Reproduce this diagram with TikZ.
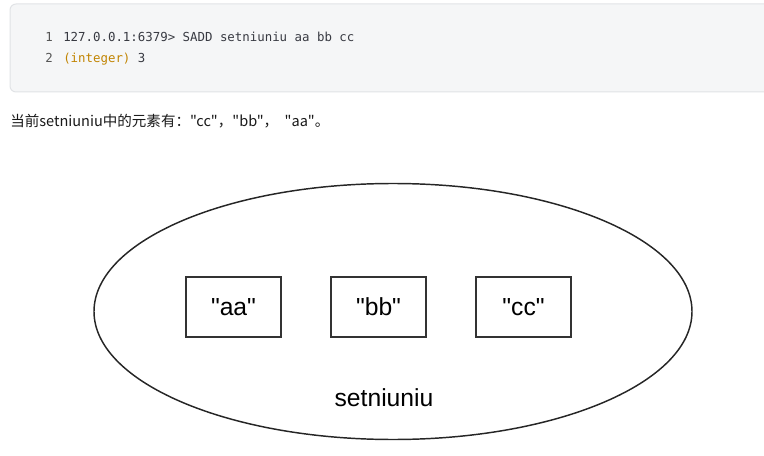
\documentclass[tikz,border=0pt]{standalone}
\usepackage{fontspec}
\setmainfont{Liberation Sans}
\newfontfamily\arial{Liberation Sans}
\newfontfamily\cjk{Noto Sans CJK SC}
\newfontfamily\codefont{DejaVu Sans Mono}
\definecolor{codebg}{HTML}{F5F6F7}
\definecolor{codeborder}{HTML}{E1E3E6}
\definecolor{codetext}{HTML}{383A42}
\definecolor{lineno}{HTML}{555555}
\definecolor{numcol}{HTML}{C18401}
\definecolor{boxdraw}{HTML}{333333}
\tikzset{
  elembox/.style={draw=boxdraw, line width=1.5pt, minimum width=71.25pt, minimum height=45pt, inner sep=0pt, font=\arial\fontsize{18.5}{20}\selectfont},
  codeline/.style={anchor=base west, inner sep=0pt, font=\codefont\fontsize{9.3}{11}\selectfont, text=codetext},
}
\begin{document}
\begin{tikzpicture}[x=0.75pt, y=-0.75pt]
\useasboundingbox (0,0) rectangle (764,456);
% code block
\draw[fill=codebg, draw=codeborder, line width=0.75pt, rounded corners=4.5pt] (10,4) rectangle (790,92);
\node[codeline, text=lineno] (n1) at (45,41.5) {1};
\node[codeline] (l1) at (63,41.5) {127.0.0.1:6379> SADD setniuniu aa bb cc};
\node[codeline, text=lineno] (n2) at (45,62.5) {2};
\node[codeline] (l2) at (63,62.5) {\textcolor{numcol}{(integer)} 3};
% sentence
\node[anchor=west, inner sep=0pt, font=\cjk\fontsize{10.9}{12}\selectfont, text=black!90] (sent) at (10,121) {当前setniuniu中的元素有："cc"，"bb"，\ \ "aa"。};
% set ellipse
\draw[line width=1.1pt, black!85] (393,311.5) ellipse [x radius=299, y radius=128];
\node[elembox] (aa) at (233.5,307) {"aa"};
\node[elembox] (bb) at (378.5,307) {"bb"};
\node[elembox] (cc) at (523.5,307) {"cc"};
\node[inner sep=0pt, font=\arial\fontsize{18.5}{20}\selectfont] (name) at (384,398) {setniuniu};
\end{tikzpicture}
\end{document}
